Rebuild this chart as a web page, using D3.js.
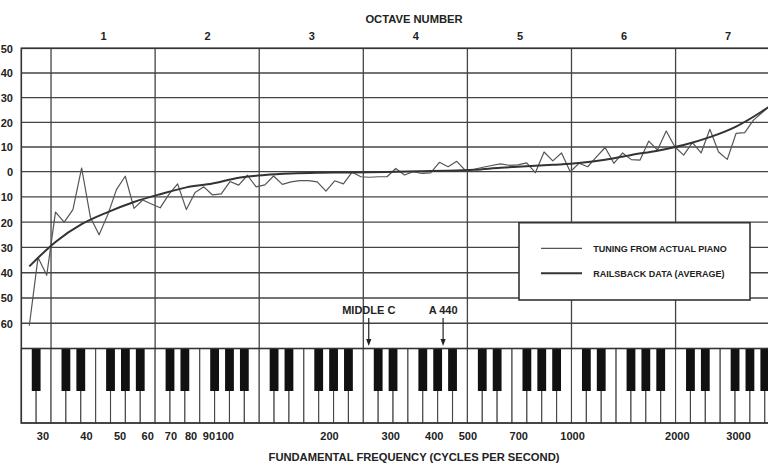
<!DOCTYPE html>
<html>
<head>
<meta charset="utf-8">
<script src="https://cdn.jsdelivr.net/npm/d3@7"></script>
<style>
  html, body { margin: 0; padding: 0; background: #fff; overflow: hidden; }
  svg text { font-family: "Liberation Sans", Arial, Helvetica, sans-serif; font-weight: bold; fill: #222; }
</style>
</head>
<body>
<div id="chart"></div>
<script>
// deviation from equal temperament in cents, one value per key, key 1 = A0
const pianoCents = [-61, -34, -41, -16, -20, -15, 1.5, -18, -25, -17,
  -7, -1.8, -14.5, -11.2, -12.8, -14.3, -9, -4.8, -15, -8.2,
  -6, -9.2, -8.8, -3.9, -5.3, -1.4, -6, -5.2, -1.7, -5,
  -4, -3.5, -3.5, -4, -7.7, -3.6, -4.8, -0.2, -2, -2.2,
  -2, -2, 1.3, -1.3, 0, -0.7, -0.5, 3.8, 2, 4.2,
  0.4, 1, 1.8, 2.5, 3.2, 2.6, 2.8, 3.6, -0.4, 8,
  4.4, 7.6, 0, 3.4, 2, 6, 9.8, 3.4, 7.6, 4.9,
  4.7, 12.4, 8.8, 16.5, 10, 6.7, 11.8, 7.6, 17.2, 8,
  5, 15.5, 15.8, 20.9, 24, 27];

// Railsback average curve, read at every third key
const averageKeys = [1, 4, 7, 10, 13, 16, 19, 22, 25, 28, 31, 34, 37, 40, 43,
  46, 49, 52, 55, 58, 61, 64, 67, 70, 73, 76, 79, 82, 85, 88];
const averageCents = [-37.5, -27.8, -20.8, -16, -12, -8.9, -6.2, -4.7, -2.4, -1.3, -0.7, -0.4, -0.3, -0.2, 0,
  0.2, 0.4, 0.8, 1.6, 2.2, 2.8, 3.5, 4.8, 6.8, 8.5, 10.8, 14, 18.3, 24.5, 32];

const centTicks = [50, 40, 30, 20, 10, 0, -10, -20, -30, -40, -50, -60];
const freqTicks = [30, 40, 50, 60, 70, 80, 90, 100, 200, 300, 400, 500, 700, 1000, 2000, 3000];
const octaveNumbers = [1, 2, 3, 4, 5, 6, 7];

const width = 768, height = 466;
const whiteCount = 52;
const whiteLetters = "ABCDEFG";

const svg = d3.select("#chart").append("svg")
  .attr("width", width)
  .attr("height", height);

// scales: keyboard position (white key index), frequency (log), cents
const xKey = d3.scaleLinear().domain([0, whiteCount]).range([21.3, 21.3 + whiteCount * 14.87]);
const xFreq = d3.scaleLog().domain([27.5, 4186]).range([29.3, 29.3 + 104.7 * Math.log2(4186 / 27.5)]);
const y = d3.scaleLinear().domain([-70, 0, 50]).range([348.5, 171.7, 48.3]);

const freqOfKey = k => 27.5 * Math.pow(2, (k - 1) / 12);
const keyTop = y(-70), keyBottom = 423, blackBottom = 391;
const lineColor = "#444";

// horizontal grid
svg.append("g")
  .selectAll("line")
  .data(centTicks)
  .join("line")
  .attr("x1", xKey(0))
  .attr("x2", xKey(whiteCount))
  .attr("y1", d => y(d))
  .attr("y2", d => y(d))
  .attr("stroke", lineColor)
  .attr("stroke-width", 1.3);

// octave boundaries sit on the C keys
const cKeys = d3.range(whiteCount).filter(w => whiteLetters[w % 7] === "C");
svg.append("g")
  .selectAll("line")
  .data(cKeys)
  .join("line")
  .attr("x1", d => xKey(d))
  .attr("x2", d => xKey(d))
  .attr("y1", y(50))
  .attr("y2", keyTop)
  .attr("stroke", lineColor)
  .attr("stroke-width", 1.3);

// keyboard
const keys = svg.append("g");
keys.selectAll("rect.white")
  .data(d3.range(whiteCount))
  .join("rect")
  .attr("class", "white")
  .attr("x", d => xKey(d))
  .attr("y", keyTop)
  .attr("width", xKey(1) - xKey(0))
  .attr("height", keyBottom - keyTop)
  .attr("fill", "#fff")
  .attr("stroke", lineColor)
  .attr("stroke-width", 1.1);

const blackAfter = d3.range(whiteCount - 1).filter(w => "ACDFG".includes(whiteLetters[w % 7]));
keys.selectAll("rect.black")
  .data(blackAfter)
  .join("rect")
  .attr("class", "black")
  .attr("x", d => xKey(d + 1) - 4.4)
  .attr("y", keyTop)
  .attr("width", 8.8)
  .attr("height", blackBottom - keyTop)
  .attr("fill", "#111");

// frame
svg.append("rect")
  .attr("x", xKey(0))
  .attr("y", y(50))
  .attr("width", xKey(whiteCount) - xKey(0))
  .attr("height", keyBottom - y(50))
  .attr("fill", "none")
  .attr("stroke", "#333")
  .attr("stroke-width", 1.6);

svg.append("line")
  .attr("x1", xKey(0)).attr("x2", xKey(whiteCount))
  .attr("y1", keyTop).attr("y2", keyTop)
  .attr("stroke", "#333").attr("stroke-width", 1.4);

// tuning curves
const pianoLine = d3.line()
  .x((d, i) => xFreq(freqOfKey(i + 1)))
  .y(d => y(d));

svg.append("path")
  .datum(pianoCents)
  .attr("d", pianoLine)
  .attr("fill", "none")
  .attr("stroke", "#555")
  .attr("stroke-width", 1.2)
  .attr("stroke-linejoin", "round");

const averageLine = d3.line()
  .x((d, i) => xFreq(freqOfKey(averageKeys[i])))
  .y(d => y(d))
  .curve(d3.curveMonotoneX);

svg.append("path")
  .datum(averageCents)
  .attr("d", averageLine)
  .attr("fill", "none")
  .attr("stroke", "#333")
  .attr("stroke-width", 2);

// axes
const leftAxis = svg.append("g")
  .attr("transform", "translate(13,0)")
  .call(d3.axisLeft(y).tickValues(centTicks).tickSize(0).tickPadding(0)
    .tickFormat(d => Math.abs(d))); // signs are lost past the left edge of the original
leftAxis.select(".domain").remove();
leftAxis.selectAll("text")
  .attr("font-size", 11)
  .attr("font-family", null)
  .attr("dy", "0.36em");

const bottomAxis = svg.append("g")
  .attr("transform", "translate(0,440)")
  .call(d3.axisBottom(xFreq).tickValues(freqTicks).tickSize(0).tickPadding(0)
    .tickFormat(d3.format("d")));
bottomAxis.select(".domain").remove();
bottomAxis.selectAll("text")
  .attr("font-size", 11)
  .attr("font-family", null)
  .attr("y", 0)
  .attr("dy", 0);

const topAxis = svg.append("g")
  .attr("transform", "translate(0,40)")
  .call(d3.axisTop(xKey).tickValues(octaveNumbers.map(n => 2 + 7 * (n - 1) + 3.5))
    .tickSize(0).tickPadding(0)
    .tickFormat((d, i) => octaveNumbers[i]));
topAxis.select(".domain").remove();
topAxis.selectAll("text")
  .attr("font-size", 11)
  .attr("font-family", null)
  .attr("y", 0)
  .attr("dy", 0);

svg.append("text")
  .attr("x", 414)
  .attr("y", 22.5)
  .attr("text-anchor", "middle")
  .attr("font-size", 11.2)
  .text("OCTAVE NUMBER");

svg.append("text")
  .attr("x", 414)
  .attr("y", 461)
  .attr("text-anchor", "middle")
  .attr("font-size", 11.2)
  .text("FUNDAMENTAL FREQUENCY (CYCLES PER SECOND)");

// arrows to middle C and A 440
const markers = [
  { label: "MIDDLE C", key: 23 },
  { label: "A 440", key: 28 }
];
const mk = svg.append("g")
  .selectAll("g")
  .data(markers)
  .join("g")
  .attr("transform", d => `translate(${xKey(d.key + 0.5) - 2},0)`);
mk.append("text")
  .attr("y", 313.5)
  .attr("text-anchor", "middle")
  .attr("font-size", 11)
  .text(d => d.label);
mk.append("line")
  .attr("y1", 318)
  .attr("y2", 341)
  .attr("stroke", "#222")
  .attr("stroke-width", 1.2);
mk.append("path")
  .attr("d", "M-2.6,339 L2.6,339 L0,346 Z")
  .attr("fill", "#222");

// legend
const legend = svg.append("g");
legend.append("rect")
  .attr("x", 519)
  .attr("y", 222.7)
  .attr("width", 231)
  .attr("height", 77.3)
  .attr("fill", "#fff")
  .attr("stroke", "#333")
  .attr("stroke-width", 1.6);

const legendItems = [
  { label: "TUNING FROM ACTUAL PIANO", color: "#555", w: 1.2, y: 248.3 },
  { label: "RAILSBACK DATA (AVERAGE)", color: "#333", w: 2, y: 273.3 }
];
const li = legend.selectAll("g")
  .data(legendItems)
  .join("g")
  .attr("transform", d => `translate(0,${d.y})`);
li.append("line")
  .attr("x1", 541)
  .attr("x2", 582)
  .attr("stroke", d => d.color)
  .attr("stroke-width", d => d.w);
li.append("text")
  .attr("x", 593.3)
  .attr("y", 3.3)
  .attr("font-size", 9)
  .text(d => d.label);
</script>
</body>
</html>
